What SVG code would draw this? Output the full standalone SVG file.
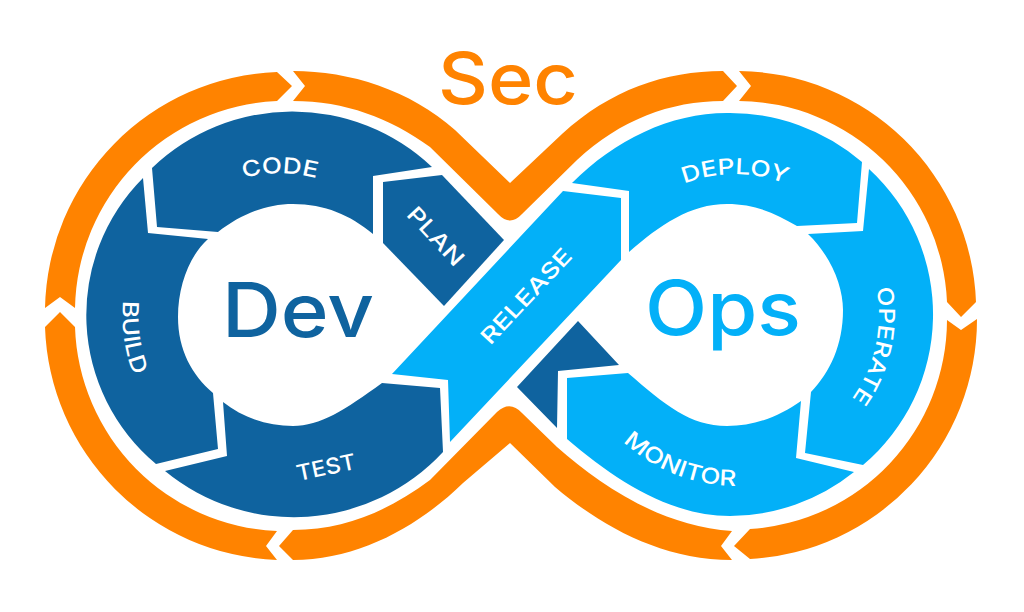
<svg xmlns="http://www.w3.org/2000/svg" xmlns:xlink="http://www.w3.org/1999/xlink" width="1024" height="612" viewBox="0 0 1024 612">
<style>
.o{fill:#ff8300}.d{fill:#0f639f}.l{fill:#03b0f8}
.t{font-family:Inter,"Liberation Sans",sans-serif;font-weight:500;font-size:22px;fill:#fff}
.b{font-family:Inter,"Liberation Sans",sans-serif;font-weight:500;font-size:75px}
</style>
<defs>
<path id="pc" d="M198.600 199A142 142 0 0 1 361.400 199"/>
<path id="pb" d="M148.400 224.600A170.500 170.500 0 0 0 179 441.700"/>
<path id="pd" d="M654 200A140 140 0 0 1 816 200"/>
<path id="po" d="M862.800 249A143 143 0 0 1 823 428.400"/>
<path id="pm" d="M589.500 399A167 167 0 0 0 789.500 477"/>
</defs>
<rect width="1024" height="612" fill="#fff"/>
<g id="connectors">
<path class="o" d="M45 308A241 241 0 0 1 277 72L292 86L277 101A211 211 0 0 0 75 308L60 297Z"/>
<path class="o" d="M293 71C350 71 410 90 455 130L510 183L562 134C610 90 665 71 723 71L737 86L723 101C670 101 620 120 577 160L522 214Q510 227 498 214L430 147C390 118 345 101 293 101L305 86Z"/>
<path class="o" d="M739 71A240 240 0 0 1 976 302L961 317L947 302A210 210 0 0 0 739 101L751 86Z"/>
<path class="o" d="M947 320L961 330L977 319A240 240 0 0 1 750 559L734 546L750 529A210 210 0 0 0 947 320Z"/>
<path class="o" d="M293 560C360 560 420 525 463 483L510 443L555 487C600 525 660 560 732 560L721 546L732 531C660 526 600 485 557 447L522 413Q510 400 497 412L430 480C390 510 345 530 293 530L279 546Z"/>
<path class="o" d="M277 560L266 546L277 531A211 211 0 0 1 75 327L60 312L45 327A241 241 0 0 0 277 560Z"/>
</g>
<text id="sec" x="438" y="104" class="b" fill="#ff8300" textLength="140" lengthAdjust="spacingAndGlyphs" style="font-size:71px">Sec</text>
<g id="code"><path class="d" d="M152 168A203 203 0 0 1 432 167L373 176L373 234C350 215 325 204 293 204C265 204 240 215 218 232L157 227Z"/>
<text class="t" text-anchor="middle" textLength="74" lengthAdjust="spacingAndGlyphs"><textPath href="#pc" startOffset="50%" xlink:href="#pc">CODE</textPath></text></g>
<g id="plan"><path class="d" d="M383 182L442 175L504 240L444 306L383 243Z"/>
<text class="t" text-anchor="middle" transform="translate(436 236) rotate(47)" y="8" textLength="72" lengthAdjust="spacingAndGlyphs">PLAN</text></g>
<g id="build"><path class="d" d="M143 178L148 233L208 239C190 255 178 285 178 317C178 350 192 375 213 393L218 449L156 464A194 194 0 0 1 143 178Z"/>
<text class="t" text-anchor="middle" textLength="76" lengthAdjust="spacingAndGlyphs"><textPath href="#pb" startOffset="50%" xlink:href="#pb">BUILD</textPath></text></g>
<g id="test"><path class="d" d="M223 402C243 418 268 426 293 426C320 426 345 410 382 383L440 388L443 452A203 203 0 0 1 165 471L227 456Z"/>
<text class="t" text-anchor="middle" transform="translate(326 467) rotate(-12)" y="8" textLength="60" lengthAdjust="spacingAndGlyphs">TEST</text></g>
<g id="deploy"><path class="l" d="M572 183C615 140 670 113 727 113A203 203 0 0 1 862 162L857 223L797 226C775 213 755 204 727 204C690 204 660 225 629 252L629 191Z"/>
<text class="t" text-anchor="middle" textLength="104" lengthAdjust="spacingAndGlyphs"><textPath href="#pd" startOffset="50%" xlink:href="#pd">DEPLOY</textPath></text></g>
<g id="operate"><path class="l" d="M869 169A197 197 0 0 1 863 465L805 453L811 392C830 372 843 345 843 310C843 285 830 255 808 234L863 231Z"/>
<text class="t" text-anchor="middle" textLength="117" lengthAdjust="spacingAndGlyphs"><textPath href="#po" startOffset="50%" xlink:href="#po">OPERATE</textPath></text></g>
<g id="monitor"><path class="l" d="M567 378L628 373C665 405 690 426 727 426C755 426 780 416 801 401L796 458L854 472A200 200 0 0 1 730 516C670 516 615 480 567 439Z"/>
<text class="t" text-anchor="middle" textLength="124" lengthAdjust="spacingAndGlyphs"><textPath href="#pm" startOffset="50%" xlink:href="#pm">MONITOR</textPath></text></g>
<g id="plan-tail"><path class="d" d="M578 321L619 365L558 371L557 428L517 387Z"/></g>
<g id="release"><path class="l" d="M563 191L621 198L621 260L450 442L448 380L392 374Z"/>
<text class="t" text-anchor="middle" transform="translate(526 296) rotate(-47)" y="8" textLength="122" lengthAdjust="spacingAndGlyphs">RELEASE</text></g>
<text id="dev" x="222" y="337" class="b" fill="#0f639f" textLength="152" lengthAdjust="spacingAndGlyphs">Dev</text>
<text id="ops" x="645" y="335" class="b" fill="#03b0f8" textLength="156" lengthAdjust="spacingAndGlyphs">Ops</text>
</svg>
